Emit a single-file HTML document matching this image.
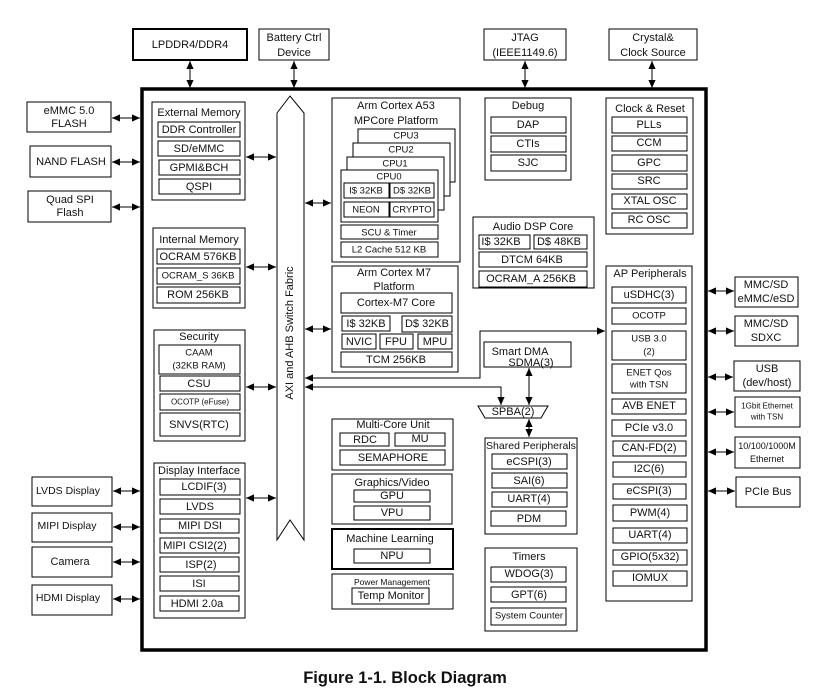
<!DOCTYPE html>
<html><head><meta charset="utf-8"><style>
html,body{margin:0;padding:0;background:#fff;}
svg{display:block;}
text{font-family:"Liberation Sans",Arial,sans-serif;font-size:11px;fill:#111;text-anchor:middle;dominant-baseline:central;}
.s{font-size:9.5px;}
.xs{font-size:8px;}
rect{fill:#fff;stroke:#000;stroke-width:1;}
.th{stroke-width:2.5;}
line,polyline{stroke:#000;stroke-width:1;fill:none;}
</style></head><body>
<svg width="814" height="697" viewBox="0 0 814 697" xmlns="http://www.w3.org/2000/svg">
<defs>
<marker id="a" viewBox="0 0 10 10" refX="10" refY="5" markerWidth="10" markerHeight="8" markerUnits="userSpaceOnUse" orient="auto-start-reverse"><path d="M0,0.5 L10,5 L0,9.5 z" fill="#000"/></marker>
</defs>

<!-- main box -->
<rect x="142" y="89" width="564" height="561" style="stroke-width:3.5"/>

<!-- top external -->
<rect x="133" y="29" width="114" height="31" class="th" style="stroke-width:2"/><text x="190" y="45">LPDDR4/DDR4</text>
<rect x="259" y="29" width="70" height="31"/><text x="294" y="38">Battery Ctrl</text><text x="294" y="53">Device</text>
<rect x="484" y="29" width="82" height="31"/><text x="525" y="38">JTAG</text><text x="525" y="53">(IEEE1149.6)</text>
<rect x="609" y="29" width="88" height="31"/><text x="653" y="38">Crystal&amp;</text><text x="653" y="53">Clock Source</text>
<line x1="190" y1="61" x2="190" y2="88" marker-start="url(#a)" marker-end="url(#a)"/>
<line x1="294" y1="61" x2="294" y2="88" marker-start="url(#a)" marker-end="url(#a)"/>
<line x1="525" y1="61" x2="525" y2="88" marker-start="url(#a)" marker-end="url(#a)"/>
<line x1="652" y1="61" x2="652" y2="88" marker-start="url(#a)" marker-end="url(#a)"/>

<!-- left external -->
<rect x="27" y="102" width="84" height="30"/><text x="69" y="111">eMMC 5.0</text><text x="69" y="124">FLASH</text>
<rect x="30" y="146" width="81" height="31"/><text x="71" y="162">NAND FLASH</text>
<rect x="28" y="191" width="83" height="31"/><text x="70" y="200">Quad SPI</text><text x="70" y="213">Flash</text>
<line x1="112" y1="118" x2="140" y2="118" marker-start="url(#a)" marker-end="url(#a)"/>
<line x1="112" y1="162" x2="140" y2="162" marker-start="url(#a)" marker-end="url(#a)"/>
<line x1="112" y1="207" x2="140" y2="207" marker-start="url(#a)" marker-end="url(#a)"/>
<rect x="32" y="477" width="80" height="29"/><text x="68" y="491" style="font-size:10.5px">LVDS Display</text>
<rect x="32" y="513" width="80" height="29"/><text x="67" y="526" style="font-size:10.5px">MIPI Display</text>
<rect x="32" y="547" width="80" height="30"/><text x="70" y="562">Camera</text>
<rect x="32" y="585" width="80" height="30"/><text x="68" y="598" style="font-size:10.5px">HDMI Display</text>
<line x1="113" y1="491" x2="140" y2="491" marker-start="url(#a)" marker-end="url(#a)"/>
<line x1="113" y1="527" x2="140" y2="527" marker-start="url(#a)" marker-end="url(#a)"/>
<line x1="113" y1="562" x2="140" y2="562" marker-start="url(#a)" marker-end="url(#a)"/>
<line x1="113" y1="599" x2="140" y2="599" marker-start="url(#a)" marker-end="url(#a)"/>

<!-- right external -->
<rect x="735" y="277" width="63" height="30"/><text x="766" y="285">MMC/SD</text><text x="766" y="299">eMMC/eSD</text>
<rect x="735" y="316" width="63" height="30"/><text x="766" y="324">MMC/SD</text><text x="766" y="338">SDXC</text>
<rect x="734" y="361" width="66" height="30"/><text x="767" y="369">USB</text><text x="767" y="383">(dev/host)</text>
<rect x="735" y="397" width="65" height="30"/><text x="767" y="406" class="xs">1Gbit Ethernet</text><text x="767" y="417" class="xs">with TSN</text>
<rect x="735" y="437" width="65" height="31"/><text x="767" y="446" style="font-size:9px">10/100/1000M</text><text x="767" y="459" style="font-size:9px">Ethernet</text>
<rect x="736" y="477" width="64" height="30"/><text x="768" y="492">PCIe Bus</text>
<line x1="708" y1="291" x2="734" y2="291" marker-start="url(#a)" marker-end="url(#a)"/>
<line x1="708" y1="331" x2="734" y2="331" marker-start="url(#a)" marker-end="url(#a)"/>
<line x1="708" y1="377" x2="733" y2="377" marker-start="url(#a)" marker-end="url(#a)"/>
<line x1="708" y1="412" x2="734" y2="412" marker-start="url(#a)" marker-end="url(#a)"/>
<line x1="708" y1="452" x2="734" y2="452" marker-start="url(#a)" marker-end="url(#a)"/>
<line x1="708" y1="491" x2="735" y2="491" marker-start="url(#a)" marker-end="url(#a)"/>

<!-- fabric -->
<polygon points="277,113 290,96 304,113 304,540 290,520 277,540" fill="#fff" stroke="#000" stroke-width="1"/>
<text x="290" y="333" transform="rotate(-90 290 333)">AXI and AHB Switch Fabric</text>

<!-- External Memory -->
<rect x="152" y="102" width="93" height="98"/><text x="199" y="113">External Memory</text>
<rect x="158" y="122" width="82" height="15"/><text x="199" y="130">DDR Controller</text>
<rect x="158" y="141" width="82" height="15"/><text x="199" y="149">SD/eMMC</text>
<rect x="159" y="160" width="81" height="15"/><text x="199" y="168">GPMI&amp;BCH</text>
<rect x="159" y="179" width="81" height="15"/><text x="199" y="187">QSPI</text>
<line x1="246" y1="157" x2="276" y2="157" marker-start="url(#a)" marker-end="url(#a)"/>

<!-- Internal Memory -->
<rect x="153" y="228" width="92" height="80"/><text x="199" y="240">Internal Memory</text>
<rect x="157" y="249" width="83" height="15"/><text x="198" y="257">OCRAM 576KB</text>
<rect x="157" y="268" width="83" height="16"/><text x="198" y="276" class="s">OCRAM_S 36KB</text>
<rect x="157" y="287" width="83" height="16"/><text x="198" y="295">ROM 256KB</text>
<line x1="246" y1="267" x2="276" y2="267" marker-start="url(#a)" marker-end="url(#a)"/>

<!-- Security -->
<rect x="154" y="330" width="91" height="111"/><text x="199" y="337">Security</text>
<rect x="159" y="345" width="81" height="29"/><text x="199" y="353" class="s">CAAM</text><text x="199" y="366" class="s">(32KB RAM)</text>
<rect x="160" y="376" width="80" height="15"/><text x="199" y="384">CSU</text>
<rect x="160" y="394" width="80" height="16"/><text x="200" y="402" class="xs">OCOTP (eFuse)</text>
<rect x="160" y="413" width="80" height="23"/><text x="199" y="425">SNVS(RTC)</text>
<line x1="246" y1="387" x2="276" y2="387" marker-start="url(#a)" marker-end="url(#a)"/>

<!-- Display Interface -->
<rect x="154" y="463" width="91" height="155"/><text x="199" y="471">Display Interface</text>
<rect x="160" y="479" width="80" height="16"/><text x="204" y="487">LCDIF(3)</text>
<rect x="160" y="499" width="80" height="15"/><text x="200" y="507">LVDS</text>
<rect x="160" y="519" width="79" height="14"/><text x="200" y="526">MIPI DSI</text>
<rect x="160" y="538" width="79" height="15"/><text x="195" y="546">MIPI CSI2(2)</text>
<rect x="160" y="557" width="79" height="15"/><text x="201" y="565">ISP(2)</text>
<rect x="160" y="576" width="79" height="15"/><text x="199" y="584">ISI</text>
<rect x="160" y="596" width="79" height="15"/><text x="197" y="604">HDMI 2.0a</text>
<line x1="246" y1="498" x2="276" y2="498" marker-start="url(#a)" marker-end="url(#a)"/>

<!-- A53 -->
<rect x="332" y="98" width="128" height="164"/><text x="396" y="106">Arm Cortex A53</text><text x="396" y="121">MPCore Platform</text>
<rect x="358" y="129" width="97" height="53"/><text x="406" y="136" class="s">CPU3</text>
<rect x="353" y="143" width="97" height="53"/><text x="401" y="150" class="s">CPU2</text>
<rect x="347" y="157" width="97" height="53"/><text x="395" y="164" class="s">CPU1</text>
<rect x="341" y="170" width="97" height="52"/><text x="389" y="177" class="s">CPU0</text>
<rect x="344" y="183" width="45" height="15"/><text x="366" y="191" class="s">I$ 32KB</text>
<rect x="390" y="183" width="44" height="15"/><text x="412" y="191" class="s">D$ 32KB</text>
<rect x="344" y="202" width="45" height="15"/><text x="366" y="210" class="s">NEON</text>
<rect x="390" y="202" width="44" height="15"/><text x="412" y="210" class="s">CRYPTO</text>
<rect x="341" y="225" width="97" height="14"/><text x="389" y="233" class="s">SCU &amp; Timer</text>
<rect x="341" y="242" width="97" height="15"/><text x="389" y="250" class="s">L2 Cache 512 KB</text>
<line x1="305" y1="203" x2="331" y2="203" marker-start="url(#a)" marker-end="url(#a)"/>

<!-- M7 -->
<rect x="332" y="266" width="126" height="106"/><text x="394" y="273">Arm Cortex M7</text><text x="394" y="287">Platform</text>
<rect x="341" y="293" width="111" height="20"/><text x="396" y="303">Cortex-M7 Core</text>
<rect x="342" y="316" width="48" height="15"/><text x="366" y="324">I$ 32KB</text>
<rect x="402" y="316" width="50" height="16"/><text x="427" y="324">D$ 32KB</text>
<rect x="342" y="334" width="34" height="15"/><text x="359" y="342">NVIC</text>
<rect x="380" y="334" width="33" height="15"/><text x="396" y="342">FPU</text>
<rect x="418" y="334" width="34" height="15"/><text x="435" y="342">MPU</text>
<rect x="341" y="352" width="111" height="15"/><text x="396" y="360">TCM 256KB</text>
<line x1="305" y1="329" x2="331" y2="329" marker-start="url(#a)" marker-end="url(#a)"/>

<!-- Debug -->
<rect x="485" y="98" width="86" height="82"/><text x="528" y="106">Debug</text>
<rect x="491" y="117" width="75" height="16"/><text x="528" y="125">DAP</text>
<rect x="491" y="136" width="75" height="16"/><text x="528" y="144">CTIs</text>
<rect x="491" y="155" width="75" height="16"/><text x="528" y="163">SJC</text>

<!-- Clock & Reset -->
<rect x="606" y="98" width="87" height="136"/><text x="650" y="109">Clock &amp; Reset</text>
<rect x="612" y="117" width="75" height="16"/><text x="649" y="125">PLLs</text>
<rect x="612" y="136" width="75" height="15"/><text x="649" y="143">CCM</text>
<rect x="612" y="155" width="75" height="16"/><text x="649" y="163">GPC</text>
<rect x="612" y="174" width="75" height="15"/><text x="649" y="181">SRC</text>
<rect x="612" y="194" width="75" height="15"/><text x="650" y="201">XTAL OSC</text>
<rect x="612" y="213" width="75" height="15"/><text x="649" y="220">RC OSC</text>

<!-- Audio DSP -->
<rect x="473" y="217" width="121" height="71"/><text x="533" y="227">Audio DSP Core</text>
<rect x="479" y="235" width="51" height="14"/><text x="501" y="242">I$ 32KB</text>
<rect x="534" y="235" width="53" height="14"/><text x="559" y="242">D$ 48KB</text>
<rect x="479" y="252" width="108" height="15"/><text x="532" y="260">DTCM 64KB</text>
<rect x="479" y="271" width="108" height="16"/><text x="531" y="279">OCRAM_A 256KB</text>

<!-- AP Peripherals -->
<rect x="606" y="266" width="86" height="335"/><text x="650" y="274">AP Peripherals</text>
<rect x="612" y="287" width="74" height="16"/><text x="649" y="295">uSDHC(3)</text>
<rect x="612" y="308" width="74" height="16"/><text x="649" y="316" class="s">OCOTP</text>
<rect x="612" y="331" width="74" height="29"/><text x="649" y="339" class="s">USB 3.0</text><text x="649" y="352" class="s">(2)</text>
<rect x="612" y="364" width="74" height="29"/><text x="649" y="373" class="s">ENET Qos</text><text x="649" y="385" class="s">with TSN</text>
<rect x="612" y="399" width="74" height="15"/><text x="649" y="406">AVB ENET</text>
<rect x="612" y="420" width="74" height="16"/><text x="649" y="428">PCIe v3.0</text>
<rect x="613" y="441" width="73" height="15"/><text x="649" y="448">CAN-FD(2)</text>
<rect x="613" y="462" width="73" height="15"/><text x="649" y="469">I2C(6)</text>
<rect x="613" y="484" width="73" height="15"/><text x="649" y="491">eCSPI(3)</text>
<rect x="613" y="505" width="74" height="16"/><text x="650" y="513">PWM(4)</text>
<rect x="613" y="528" width="74" height="15"/><text x="650" y="535">UART(4)</text>
<rect x="613" y="550" width="74" height="15"/><text x="650" y="557">GPIO(5x32)</text>
<rect x="613" y="571" width="74" height="15"/><text x="650" y="578">IOMUX</text>

<!-- connections to AP / SPBA -->
<polyline points="305,378 480,378 480,331 605,331" marker-start="url(#a)" marker-end="url(#a)"/>
<polyline points="305,387 501,387 501,405" marker-start="url(#a)" marker-end="url(#a)"/>
<rect x="484" y="342" width="87" height="25"/><text x="520" y="352">Smart DMA</text><text x="531" y="363">SDMA(3)</text>
<line x1="529" y1="368" x2="529" y2="405" marker-start="url(#a)" marker-end="url(#a)"/>
<polygon points="478,406 548,406 541,418 485,418" fill="#fff" stroke="#000"/>
<text x="513" y="412">SPBA(2)</text>
<line x1="529" y1="419" x2="529" y2="437" marker-start="url(#a)" marker-end="url(#a)"/>

<!-- Shared Peripherals -->
<rect x="485" y="438" width="92" height="96"/><text x="531" y="446" style="font-size:10.5px">Shared Peripherals</text>
<rect x="492" y="454" width="75" height="15"/><text x="529" y="462">eCSPI(3)</text>
<rect x="492" y="473" width="75" height="15"/><text x="529" y="481">SAI(6)</text>
<rect x="492" y="492" width="75" height="15"/><text x="529" y="499">UART(4)</text>
<rect x="491" y="511" width="75" height="15"/><text x="529" y="519">PDM</text>

<!-- Timers -->
<rect x="485" y="548" width="92" height="83"/><text x="529" y="557">Timers</text>
<rect x="491" y="567" width="75" height="15"/><text x="529" y="574">WDOG(3)</text>
<rect x="491" y="587" width="75" height="15"/><text x="529" y="595">GPT(6)</text>
<rect x="491" y="608" width="75" height="17"/><text x="529" y="616" class="s">System Counter</text>

<!-- Multi-Core -->
<rect x="332" y="419" width="121" height="51"/><text x="393" y="425">Multi-Core Unit</text>
<rect x="340" y="433" width="49" height="13"/><text x="365" y="440">RDC</text>
<rect x="395" y="433" width="50" height="13"/><text x="420" y="439">MU</text>
<rect x="340" y="450" width="105" height="15"/><text x="393" y="458">SEMAPHORE</text>

<!-- Graphics -->
<rect x="332" y="474" width="120" height="50"/><text x="392" y="483">Graphics/Video</text>
<rect x="354" y="490" width="76" height="12"/><text x="392" y="496">GPU</text>
<rect x="354" y="506" width="76" height="14"/><text x="392" y="513">VPU</text>

<!-- Machine Learning -->
<rect x="332" y="529" width="121" height="40" style="stroke-width:2"/><text x="390" y="539">Machine Learning</text>
<rect x="354" y="549" width="76" height="14"/><text x="392" y="556">NPU</text>

<!-- Power -->
<rect x="332" y="574" width="121" height="35"/><text x="392" y="582" style="font-size:8.5px">Power Management</text>
<rect x="352" y="588" width="77" height="16"/><text x="391" y="596">Temp Monitor</text>

<text x="405" y="678" style="font-size:16.5px;font-weight:bold">Figure 1-1. Block Diagram</text>
</svg>
</body></html>
